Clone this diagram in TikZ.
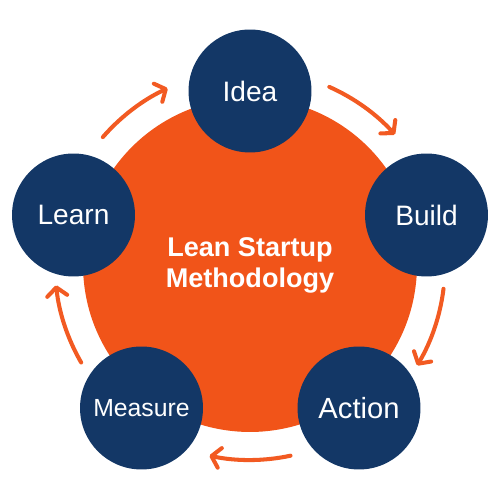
\documentclass[tikz,border=0pt]{standalone}
\usepackage{fontspec}
\setmainfont{Liberation Sans}
\usetikzlibrary{arrows.meta,calc}
\definecolor{hubcol}{HTML}{F15419}
\definecolor{stagecol}{HTML}{133766}
\definecolor{loopcol}{HTML}{F25A22}

\begin{document}
\begin{tikzpicture}[x=0.02cm, y=0.02cm,
    hub/.style={circle, fill=hubcol, minimum size=6.68cm, inner sep=0pt, text=white, align=center, font=\bfseries\fontsize{15.4}{17.6}\selectfont},
    stage/.style={circle, fill=stagecol, minimum size=2.46cm, inner sep=0pt, text=white, font=\fontsize{16}{18}\selectfont},
    cyc/.style={draw=loopcol, line width=2.3pt, line cap=round, -{Straight Barb[length=1.7mm, width=4mm, round]}}
]
\useasboundingbox (0,0) rectangle (500,500);

\node[hub] (core) at (250,235) {Lean Startup\\Methodology};
\coordinate (ring) at (250,235);

\node[stage] (idea) at (250,409) {Idea};
\node[stage] (build) at (426.5,285) {Build};
\node[stage, font=\fontsize{16.6}{18}\selectfont] (action) at (359,92) {Action};
\node[stage, font=\fontsize{14.1}{16}\selectfont] (measure) at (141.5,92) {Measure};
\node[stage] (learn) at (73.5,285) {Learn};

% loop arrows
\foreach \a in {139,66,-7,-78,-150}
  \draw[cyc] ($(ring)+(\a:3.9cm)$) arc[start angle=\a, delta angle=-24, radius=3.9cm];

\end{tikzpicture}
\end{document}
